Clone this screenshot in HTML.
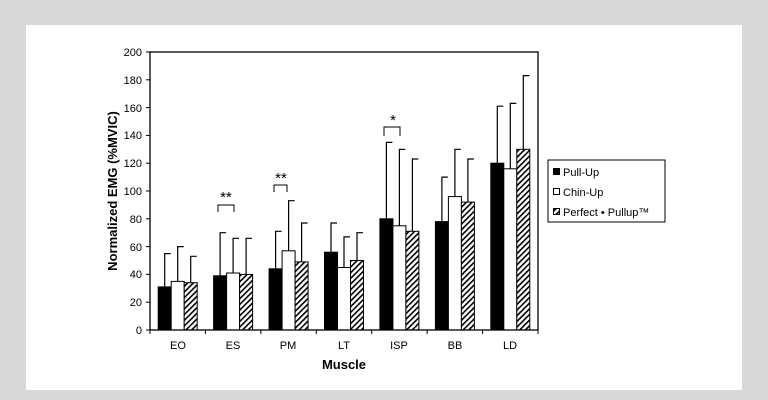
<!DOCTYPE html>
<html><head><meta charset="utf-8"><style>
html,body{margin:0;padding:0;background:#d8d8d6;}
svg{display:block;font-family:"Liberation Sans",Arial,sans-serif;}
</style></head><body>
<svg width="768" height="400" viewBox="0 0 768 400" xmlns="http://www.w3.org/2000/svg">
<defs>
<pattern id="h" patternUnits="userSpaceOnUse" width="4" height="4" patternTransform="rotate(45)">
<rect width="4" height="4" fill="#fff"/><rect width="1.6" height="4" fill="#000"/>
</pattern>
</defs>
<rect x="0" y="0" width="768" height="400" fill="#d8d8d6"/>
<rect x="26" y="25" width="716" height="365" fill="#fff"/>
<g stroke="#000" stroke-width="1.2" fill="none">
<path d="M164.7 286.9V253.6h6M177.7 281.4V246.6h6M190.7 282.7V256.3h6"/>
<path d="M220.1 275.8V232.7h6M233.1 273.0V238.3h6M246.1 274.4V238.3h6"/>
<path d="M275.6 268.8V231.3h6M288.6 250.8V200.7h6M301.6 261.9V223.0h6"/>
<path d="M331.0 252.2V223.0h6M344.0 267.5V236.9h6M357.0 260.5V232.7h6"/>
<path d="M386.4 218.8V142.4h6M399.4 225.8V149.3h6M412.4 231.3V159.0h6"/>
<path d="M441.9 221.6V177.1h6M454.9 196.6V149.3h6M467.9 202.1V159.0h6"/>
<path d="M497.3 163.2V106.2h6M510.3 168.8V103.4h6M523.3 149.3V75.6h6"/>
</g>
<g stroke="#000" stroke-width="1">
<rect x="158.2" y="286.9" width="13" height="43.1" fill="#000"/>
<rect x="171.2" y="281.4" width="13" height="48.6" fill="#fff"/>
<rect x="184.2" y="282.7" width="13" height="47.3" fill="url(#h)"/>
<rect x="213.6" y="275.8" width="13" height="54.2" fill="#000"/>
<rect x="226.6" y="273.0" width="13" height="57.0" fill="#fff"/>
<rect x="239.6" y="274.4" width="13" height="55.6" fill="url(#h)"/>
<rect x="269.1" y="268.8" width="13" height="61.2" fill="#000"/>
<rect x="282.1" y="250.8" width="13" height="79.2" fill="#fff"/>
<rect x="295.1" y="261.9" width="13" height="68.1" fill="url(#h)"/>
<rect x="324.5" y="252.2" width="13" height="77.8" fill="#000"/>
<rect x="337.5" y="267.5" width="13" height="62.5" fill="#fff"/>
<rect x="350.5" y="260.5" width="13" height="69.5" fill="url(#h)"/>
<rect x="379.9" y="218.8" width="13" height="111.2" fill="#000"/>
<rect x="392.9" y="225.8" width="13" height="104.2" fill="#fff"/>
<rect x="405.9" y="231.3" width="13" height="98.7" fill="url(#h)"/>
<rect x="435.4" y="221.6" width="13" height="108.4" fill="#000"/>
<rect x="448.4" y="196.6" width="13" height="133.4" fill="#fff"/>
<rect x="461.4" y="202.1" width="13" height="127.9" fill="url(#h)"/>
<rect x="490.8" y="163.2" width="13" height="166.8" fill="#000"/>
<rect x="503.8" y="168.8" width="13" height="161.2" fill="#fff"/>
<rect x="516.8" y="149.3" width="13" height="180.7" fill="url(#h)"/>
</g>
<rect x="150" y="52" width="388" height="278" fill="none" stroke="#000" stroke-width="1.3"/>
<g font-size="11" text-anchor="end" fill="#000">
<text x="142" y="334">0</text><text x="142" y="306">20</text><text x="142" y="278">40</text>
<text x="142" y="251">60</text><text x="142" y="223">80</text><text x="142" y="195">100</text>
<text x="142" y="167">120</text><text x="142" y="139">140</text><text x="142" y="112">160</text>
<text x="142" y="84">180</text><text x="142" y="56">200</text>
</g>
<g stroke="#000" stroke-width="1">
<line x1="146" y1="330" x2="150" y2="330"/><line x1="146" y1="302.2" x2="150" y2="302.2"/>
<line x1="146" y1="274.4" x2="150" y2="274.4"/><line x1="146" y1="246.6" x2="150" y2="246.6"/>
<line x1="146" y1="218.8" x2="150" y2="218.8"/><line x1="146" y1="191" x2="150" y2="191"/>
<line x1="146" y1="163.2" x2="150" y2="163.2"/><line x1="146" y1="135.4" x2="150" y2="135.4"/>
<line x1="146" y1="107.6" x2="150" y2="107.6"/><line x1="146" y1="79.8" x2="150" y2="79.8"/>
<line x1="146" y1="52" x2="150" y2="52"/>
<line x1="150" y1="330" x2="150" y2="334"/><line x1="205.4" y1="330" x2="205.4" y2="334"/>
<line x1="260.9" y1="330" x2="260.9" y2="334"/><line x1="316.3" y1="330" x2="316.3" y2="334"/>
<line x1="371.7" y1="330" x2="371.7" y2="334"/><line x1="427.1" y1="330" x2="427.1" y2="334"/>
<line x1="482.6" y1="330" x2="482.6" y2="334"/><line x1="538" y1="330" x2="538" y2="334"/>
</g>
<g font-size="11" text-anchor="middle">
<text x="178" y="349">EO</text><text x="233" y="349">ES</text><text x="288" y="349">PM</text>
<text x="344" y="349">LT</text><text x="399" y="349">ISP</text><text x="455" y="349">BB</text>
<text x="510" y="349">LD</text>
</g>
<text x="344" y="369" font-size="13" font-weight="bold" text-anchor="middle">Muscle</text>
<text transform="translate(117,191) rotate(-90)" font-size="13" font-weight="bold" text-anchor="middle">Normalized EMG (%MVIC)</text>
<g stroke="#000" stroke-width="1" fill="none">
<path d="M218 212 V205 H234 V212"/>
<path d="M274 192 V185 H287 V192"/>
<path d="M384 136 V127 H400 V136"/>
</g>
<g font-size="15" text-anchor="middle">
<text x="226" y="202">**</text><text x="281" y="183">**</text><text x="393" y="125">*</text>
</g>
<rect x="548" y="160" width="117" height="62" fill="#fff" stroke="#000" stroke-width="1"/>
<rect x="553" y="168" width="7" height="7" fill="#000"/>
<rect x="553.5" y="188.5" width="6" height="6" fill="#fff" stroke="#000"/>
<rect x="553.5" y="208.5" width="6" height="6" fill="url(#h)" stroke="#000"/>
<g font-size="11"><text x="563" y="176">Pull-Up</text><text x="563" y="196">Chin-Up</text><text x="563" y="216">Perfect • Pullup™</text></g>
</svg>
</body></html>
